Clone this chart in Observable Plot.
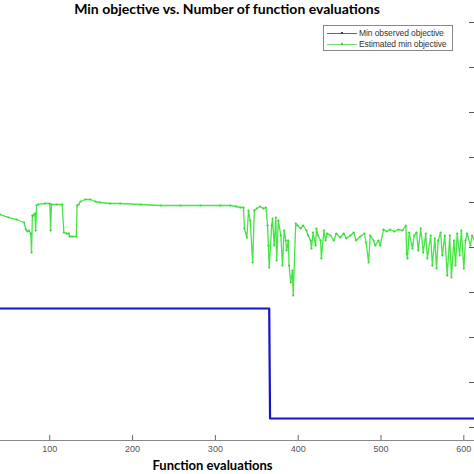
<!DOCTYPE html>
<html>
<head>
<meta charset="utf-8">
<script src="https://cdn.jsdelivr.net/npm/d3@7"></script>
<script src="https://cdn.jsdelivr.net/npm/@observablehq/plot@0.6"></script>
<style>
  body { margin: 0; background: #fff; }
  #wrap { position: relative; width: 474px; height: 474px; overflow: hidden; }
  #title { height: 16px; line-height: 16px; font: bold 14px Lato, sans-serif; text-align: center; width: 474px; margin-left: -10px; color: #000; }
  #legend { position: absolute; left: 323px; top: 25px; width: 128px; height: 24px; border: 1px solid #888; background: #fff; font: 8.5px "Liberation Sans", Arial, sans-serif; color: #333; letter-spacing: -0.1px; }
  .row { position: absolute; left: 3px; height: 12px; line-height: 12px; white-space: nowrap; }
  .sw { display: inline-block; position: relative; width: 30px; height: 0; vertical-align: middle; margin-right: 2px; }
  .sw i { position: absolute; left: 14px; top: -2px; width: 2px; height: 2px; }
  #chart svg { display: block; }
</style>
</head>
<body>
<div id="wrap">
  <div id="title">Min objective vs. Number of function evaluations</div>
  <div id="legend">
    <div class="row" style="top:1px"><span class="sw" style="border-top:1px solid #5a5ac8"><i style="background:#3333bb"></i></span>Min observed objective</div>
    <div class="row" style="top:12px"><span class="sw" style="border-top:1px solid #70e070"><i style="background:#44cc44"></i></span>Estimated min objective</div>
  </div>
  <div id="chart"></div>
</div>
<script>
// Blue series: Min observed objective
const blueX = [40, 365, 366, 613];
const blueY = [3.644, 3.644, 1.2, 1.2];

// Green series: Estimated min objective
const greenX = [40, 50, 60, 69, 71, 73, 75, 77, 78, 79, 80, 82, 83, 84, 86, 94, 100, 101, 102, 108, 115, 117, 120, 123, 124, 127, 132, 133, 135, 137, 143, 149, 155, 161, 173, 185, 210, 234, 258, 282, 306, 318, 325, 330, 334,
  335, 338, 340, 342, 345, 347, 350, 354, 358, 361, 363, 364, 365, 368, 369, 371, 373, 374, 376, 379, 381, 383, 385, 386, 388, 389, 391, 393, 394, 397, 399, 403, 406, 410, 412, 415, 416, 418, 421, 422, 424, 427, 428, 431, 433, 435, 439, 443, 446, 451, 455, 458, 463, 467, 470, 475, 480, 482, 485, 487, 491, 493, 497, 499,
  503, 507, 511, 516, 521, 526, 530, 531, 532, 534, 538, 540, 543, 545, 548, 551, 554, 556, 560, 562, 565, 567, 569, 572, 574, 577, 580, 583, 585, 588, 590, 592, 595, 597, 600, 602, 604, 608, 610, 613];
const greenY = [5.733, 5.667, 5.622, 5.556, 5.40, 5.356, 5.378, 5.311, 4.889, 5.711, 5.711, 5.756, 5.378, 5.933, 5.956, 5.978, 5.978, 5.378, 5.956, 5.956, 5.956, 5.333, 5.311, 5.311, 5.244, 5.244, 5.244, 5.933, 5.956, 6.022, 6.067, 6.067, 6.022, 6.0, 5.978, 5.978, 5.956, 5.933, 5.933, 5.933, 5.933, 5.933, 5.911, 5.889, 5.889,
  5.422, 5.222, 5.822, 5.6, 4.667, 5.822, 5.867, 5.911, 5.867, 5.889, 5.489, 5.044, 4.556, 5.489, 5.644, 5.044, 5.667, 4.711, 5.6, 5.267, 4.6, 5.378, 5.156, 4.933, 5.156, 4.6, 4.222, 4.489, 3.933, 5.533, 5.489, 5.422, 5.489, 5.378, 5.267, 5.156, 4.978, 5.333, 5.044, 5.422, 5.267, 5.156, 4.756, 5.378, 5.156, 5.311, 5.267, 5.156, 5.311, 5.222, 5.311, 5.2, 5.267, 5.333, 5.156, 5.244, 5.311, 5.111, 4.667, 5.267, 5.156, 5.044, 5.156, 5.044,
  5.4, 5.356, 5.4, 5.356, 5.4, 5.378, 5.489, 4.867, 4.756, 5.333, 4.978, 5.267, 5.333, 4.933, 5.422, 4.889, 5.311, 4.756, 5.267, 4.6, 5.2, 4.533, 5.156, 5.333, 4.822, 5.267, 4.378, 5.267, 4.333, 5.156, 4.6, 5.311, 4.822, 5.378, 4.533, 5.156, 5.311, 5.044, 5.267, 5.156];

const xTicks = [100, 200, 300, 400, 500, 600];
const yTicks = [1, 2, 3, 4, 5, 6, 7, 8, 9, 10];
const xLabel = "Function evaluations";

const blue = blueX.map((x, i) => ({x, y: blueY[i]}));
const green = greenX.map((x, i) => ({x, y: greenY[i]}));

const chart = Plot.plot({
  width: 474,
  height: 458,
  marginTop: 6,
  marginBottom: 34,
  marginLeft: 0,
  marginRight: 0,
  style: {background: "#fff", fontFamily: "'Liberation Sans', Arial, sans-serif"},
  x: {domain: [40.5, 612.9]},
  y: {domain: [0.7111, 10]},
  marks: [
    Plot.frame({anchor: "bottom", stroke: "#888"}),
    Plot.axisX({ticks: xTicks, tickSize: -5, tickFormat: () => "", stroke: "#666", label: null}),
    Plot.axisX({ticks: xTicks, tickSize: 0, tickPadding: 5, fontSize: 9, fill: "#555", label: null}),
    Plot.axisY({anchor: "right", ticks: yTicks, tickSize: -6, tickFormat: () => "", stroke: "#555", label: null}),
    Plot.line(green, {x: "x", y: "y", stroke: "#46e446", strokeWidth: 1.3}),
    Plot.dot(green, {x: "x", y: "y", r: 1.1, fill: "#38d838"}),
    Plot.line(blue, {x: "x", y: "y", stroke: "#1414cc", strokeWidth: 2.2}),
    Plot.text([xLabel], {frameAnchor: "bottom", dx: -25, dy: 29, fontSize: 13, fontWeight: "bold", fill: "#000", fontFamily: "Lato, sans-serif"})
  ]
});
document.getElementById("chart").appendChild(chart);
</script>
</body>
</html>
